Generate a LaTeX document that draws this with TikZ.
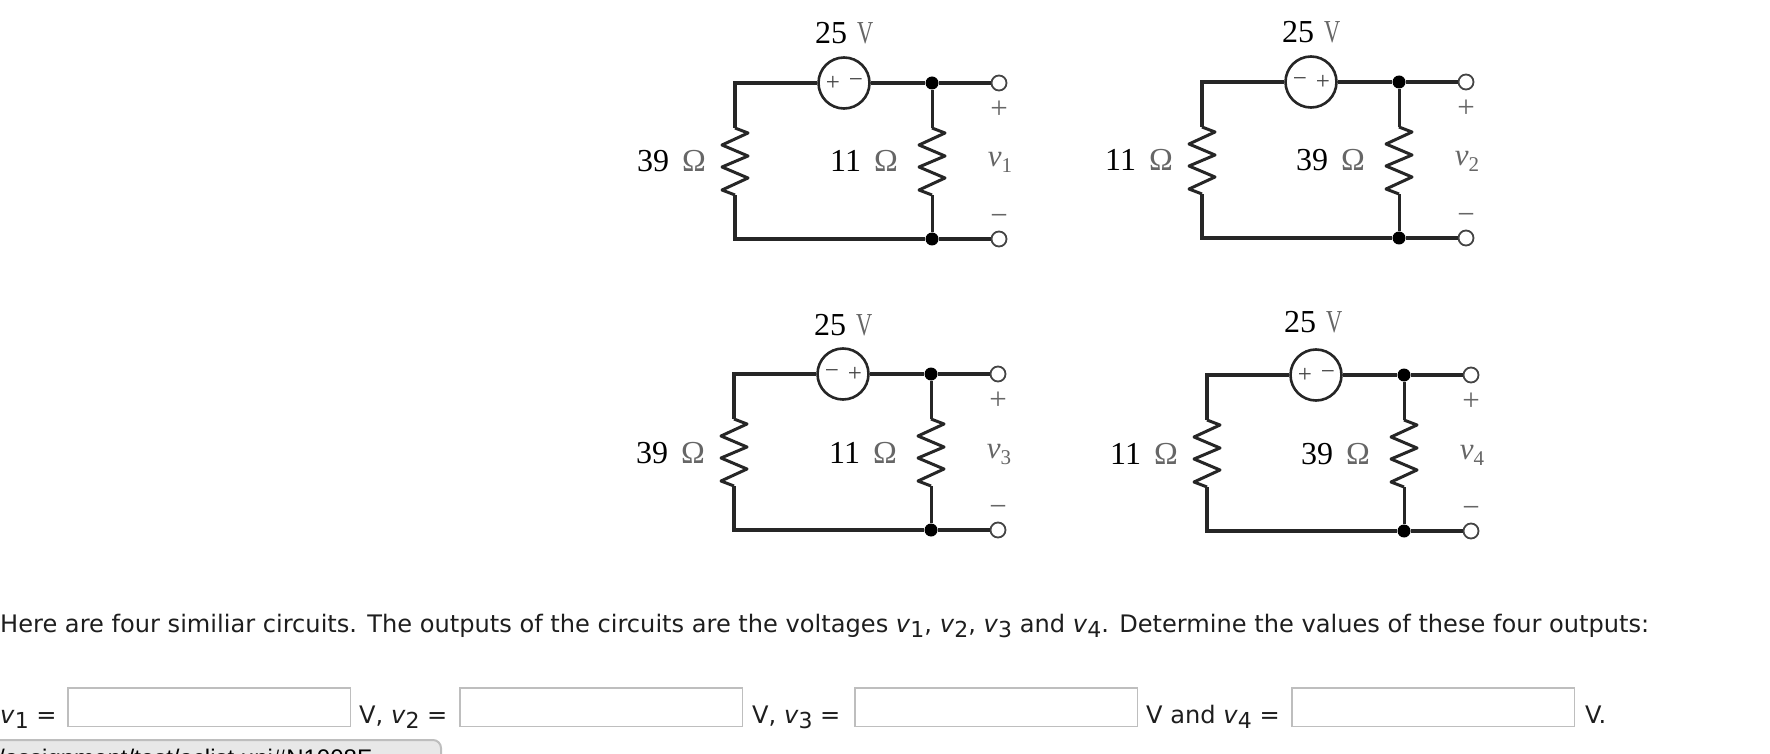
\documentclass[tikz,border=0pt]{standalone}
\usepackage{fontspec}
\setmainfont{Liberation Serif}
\newfontfamily\uifont{DejaVu Sans}
\newfontfamily\tabfont{Liberation Sans}

\definecolor{wirecol}{HTML}{262626}
\definecolor{graytext}{HTML}{666666}
\definecolor{signcol}{HTML}{444444}
\definecolor{bodytext}{HTML}{1E1E1E}
\definecolor{fieldcol}{HTML}{BEBEBE}

\tikzset{
	wire/.style={line width=3.4pt,color=wirecol,line join=miter},
	rwire/.style={line width=3pt,color=wirecol,line join=round},
	sourcering/.style={circle,draw=wirecol,fill=white,line width=2.6pt,minimum size=51pt,inner sep=0pt},
	dot/.style={circle,fill=black,minimum size=13pt,inner sep=0pt},
	terminal/.style={circle,draw=signcol,fill=white,line width=1.8pt,minimum size=15pt,inner sep=0pt},
	val/.style={inner sep=0pt,anchor=base east,font=\fontsize{32}{32}\selectfont,color=black},
	signlabel/.style={inner sep=0pt,color=graytext,font=\fontsize{31}{31}\selectfont},
	srcsign/.style={inner sep=0pt,color=signcol,font=\fontsize{25}{25}\selectfont},
	ui/.style={inner sep=0pt,anchor=base west,font=\uifont\fontsize{24.1}{28}\selectfont,color=bodytext},
	field/.style={draw=fieldcol,fill=white,line width=1.6pt,inner sep=0pt,anchor=north west,minimum height=38.5pt,minimum width=282.5pt},
}

\newcommand{\outv}[1]{\textit{v}\raisebox{-6pt}{\fontsize{21}{21}\selectfont #1}}
\newcommand{\uiv}[1]{\textit{v}\raisebox{-5pt}{\fontsize{22}{22}\selectfont #1}}

\begin{document}
\begin{tikzpicture}[x=1pt,y=-1pt]

\useasboundingbox (0,0) rectangle (1770,754);

% one circuit: name, x, y, left value, right value, left sign, right sign, index, shift of 25 V
\def\circuit#1#2#3#4#5#6#7#8#9{
	\coordinate (#1tl) at (#2,#3);
	\coordinate (#1bl) at (#2,#3+156);
	\coordinate (#1la) at (#2,#3+45);
	\coordinate (#1lb) at (#2,#3+112);
	\coordinate (#1ra) at (#2+197,#3+45);
	\coordinate (#1rb) at (#2+197,#3+112);

	\node[sourcering] (#1src) at (#2+109,#3) {};
	\node[dot] (#1jt) at (#2+197,#3) {};
	\node[dot] (#1jb) at (#2+197,#3+156) {};
	\node[terminal] (#1tt) at (#2+264,#3) {};
	\node[terminal] (#1tb) at (#2+264,#3+156) {};

	\draw[wire] (#1la)--(#1tl)--(#1src);
	\draw[wire] (#1src)--(#1jt)--(#1tt);
	\draw[wire] (#1lb)--(#1bl)--(#1jb)--(#1tb);
	\draw[rwire] (#1jt)--(#1ra);
	\draw[rwire] (#1rb)--(#1jb);

	\draw[rwire] (#1la) -- ++(13,5) -- ++(-26,12) -- ++(26,11) -- ++(-26,11) -- ++(26,11) -- ++(-26,12) -- (#1lb);
	\draw[rwire] (#1ra) -- ++(13,5) -- ++(-26,12) -- ++(26,11) -- ++(-26,11) -- ++(26,11) -- ++(-26,12) -- (#1rb);

	\node[srcsign] (#1sl) at (#2+98,#3) {#6};
	\node[srcsign] (#1sr) at (#2+121,#3) {#7};

	\node[val,anchor=base west,shift={(#9)}] (#1vs) at (#2+80,#3-39) {25\hspace{10pt}\textcolor{graytext}{\scalebox{0.7}[1]{V}}};
	\node[val] (#1vl) at (#2-29,#3+89) {#4\hspace{13pt}\textcolor{graytext}{Ω}};
	\node[val] (#1vr) at (#2+163,#3+89) {#5\hspace{13pt}\textcolor{graytext}{Ω}};

	\node[signlabel] (#1plus) at (#2+264,#3+27) {+};
	\node[signlabel] (#1minus) at (#2+264,#3+137) {−};
	\node[signlabel,anchor=base] (#1out) at (#2+265,#3+84) {\outv{#8}};
}

\circuit{a}{735}{83}{39}{11}{+}{−}{1}{0,0}
\circuit{b}{1202}{82}{11}{39}{−}{+}{2}{0,0}
\circuit{c}{734}{374}{39}{11}{−}{+}{3}{0,0}
\circuit{d}{1207}{375}{11}{39}{+}{−}{4}{-3,-4}

\node[ui] (line) at (0,632) {Here are four similiar circuits. The outputs of the circuits are the voltages \uiv{1}, \uiv{2}, \uiv{3} and \uiv{4}. Determine the values of these four outputs:};

\node[ui] (t1) at (0,723) {\uiv{1} =};
\node[field] (f1) at (67,687) {};
\node[ui] (t2) at (359,723) {V, \uiv{2} =};
\node[field] (f2) at (459,687) {};
\node[ui] (t3) at (752,723) {V, \uiv{3} =};
\node[field] (f3) at (854,687) {};
\node[ui] (t4) at (1146,723) {V and \uiv{4} =};
\node[field] (f4) at (1291,687) {};
\node[ui] (t5) at (1585,723) {V.};

\draw[draw=fieldcol,fill=black!9,line width=2pt,rounded corners=8pt] (-8,770) rectangle (441,740);
\node[inner sep=0pt,anchor=base west,font=\tabfont\fontsize{24}{24}\selectfont,color=black] (tab) at (-2,766) {/assignment/test/aclist.uni\#N1008F};

\end{tikzpicture}
\end{document}
